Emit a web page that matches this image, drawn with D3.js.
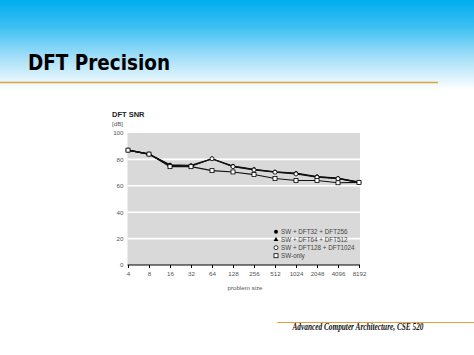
<!DOCTYPE html>
<html><head><meta charset="utf-8">
<script src="https://cdn.jsdelivr.net/npm/d3@7/dist/d3.min.js"></script>
<style>body{margin:0;background:#fff}svg{display:block}</style>
</head><body>
<svg id="c" width="474" height="355"></svg>
<script>
const problemSizes = ["4","8","16","32","64","128","256","512","1024","2048","4096","8192"];
const seriesNames = ["SW + DFT32 + DFT256","SW + DFT64 + DFT512","SW + DFT128 + DFT1024","SW-only"];
const dft32 = [87,84,76,75.5,80.5,75,72.5,70.7,69.6,67,65.8,62.8];
const dft64 = [87,84,75.5,75,80.5,74.7,72.3,70.5,69.3,66.8,65.6,62.6];
const dft128 = [87,84,75,74.8,80.5,74.5,72,70.3,69,66.5,65.4,62.6];
const swOnly = [87,84,74.5,74.5,71.5,70.5,68.5,65.5,64,64,62.3,62.6];
const yTicks = [0,20,40,60,80,100];
const seriesData = [dft32, dft64, dft128, swOnly];
const markers = ["fcircle","triangle","ocircle","square"];

const svg = d3.select("#c");
const defs = svg.append("defs");
const g = defs.append("linearGradient").attr("id","bg").attr("x1",0).attr("y1",0).attr("x2",0).attr("y2",1);
g.append("stop").attr("offset","0%").attr("stop-color","#00aeef");
g.append("stop").attr("offset","30%").attr("stop-color","#3cc0f2");
g.append("stop").attr("offset","65%").attr("stop-color","#a8e0f8");
g.append("stop").attr("offset","100%").attr("stop-color","#ffffff");
svg.append("rect").attr("width",474).attr("height",90).attr("fill","url(#bg)");

svg.append("text").attr("x",28).attr("y",70).text("DFT Precision")
  .attr("font-family","DejaVu Sans").attr("font-weight","bold").attr("font-size",20.5)
  .attr("textLength",142).attr("lengthAdjust","spacingAndGlyphs").attr("fill","#000");
svg.append("line").attr("x1",0).attr("x2",438).attr("y1",82.5).attr("y2",82.5)
  .attr("stroke","#e3a23e").attr("stroke-width",1.5);

const L=127.5, R=360, T=133, B=265;
const x = d3.scalePoint().domain(problemSizes).range([L+0.5,R-1]);
const y = d3.scaleLinear().domain([0,100]).range([B,T]);

svg.append("rect").attr("x",L).attr("y",T).attr("width",R-L).attr("height",B-T).attr("fill","#d9d9d9");
svg.append("g").selectAll("line").data(yTicks.filter(d=>d>0&&d<100)).join("line")
  .attr("x1",L).attr("x2",R).attr("y1",d=>y(d)).attr("y2",d=>y(d))
  .attr("stroke","#fff").attr("stroke-width",1.6);

const yAx = svg.append("g").attr("transform",`translate(${L-3},0)`)
  .call(d3.axisLeft(y).tickValues(yTicks).tickSize(0).tickPadding(1));
yAx.select(".domain").remove();
yAx.selectAll("text").attr("font-family","Liberation Sans").attr("font-size",6.2).attr("fill","#555");

const xAx = svg.append("g").attr("transform",`translate(0,${B})`)
  .call(d3.axisBottom(x).tickSize(3).tickPadding(4));
xAx.select(".domain").attr("d",`M${L},0H${R}`).attr("stroke","#000").attr("stroke-width",1.2);
xAx.selectAll(".tick line").attr("stroke","#000");
xAx.selectAll("text").attr("font-family","Liberation Sans").attr("font-size",6.2).attr("fill","#555");

svg.append("text").attr("x",112).attr("y",117).text("DFT SNR")
  .attr("font-family","Liberation Sans").attr("font-weight","bold").attr("font-size",7.5).attr("fill","#222");
svg.append("text").attr("x",112).attr("y",126).text("[dB]")
  .attr("font-family","Liberation Sans").attr("font-size",6.2).attr("fill","#555");
svg.append("text").attr("x",245).attr("y",290).attr("text-anchor","middle").text("problem size")
  .attr("font-family","Liberation Sans").attr("font-size",6.2).attr("fill","#555");

const line = d3.line().x((d,i)=>x(problemSizes[i])).y(d=>y(d));
function marker(sel, type, cx, cy){
  if(type==="fcircle") sel.append("circle").attr("cx",cx).attr("cy",cy).attr("r",2).attr("fill","#000");
  else if(type==="ocircle") sel.append("circle").attr("cx",cx).attr("cy",cy).attr("r",2).attr("fill","#fff").attr("stroke","#000").attr("stroke-width",0.8);
  else if(type==="triangle") sel.append("path").attr("d",d3.symbol(d3.symbolTriangle,10)()).attr("transform",`translate(${cx},${cy})`).attr("fill","#000");
  else sel.append("rect").attr("x",cx-2).attr("y",cy-2).attr("width",4).attr("height",4).attr("fill","#fff").attr("stroke","#000").attr("stroke-width",0.8);
}
seriesData.forEach((s,k)=>{
  svg.append("path").attr("d",line(s)).attr("fill","none").attr("stroke","#111").attr("stroke-width",1.1);
});
seriesData.forEach((s,k)=>{
  const gg = svg.append("g");
  s.forEach((v,i)=>marker(gg, markers[k], x(problemSizes[i]), y(v)));
});

const leg = svg.append("g");
seriesNames.forEach((n,k)=>{
  const yy = 232 + k*8;
  marker(leg, markers[k], 276, yy-0.3);
  leg.append("text").attr("x",281).attr("y",yy+2).text(n)
    .attr("font-family","Liberation Sans").attr("font-size",6.3).attr("fill","#444");
});

svg.append("line").attr("x1",277).attr("x2",474).attr("y1",322.5).attr("y2",322.5)
  .attr("stroke","#e3a23e").attr("stroke-width",1.2);
svg.append("text").attr("x",358).attr("y",330).attr("text-anchor","middle")
  .text("Advanced Computer Architecture, CSE 520")
  .attr("font-family","Liberation Serif").attr("font-style","italic").attr("font-weight","bold")
  .attr("font-size",9.5).attr("textLength",131).attr("lengthAdjust","spacingAndGlyphs").attr("fill","#111");
</script>
</body></html>
